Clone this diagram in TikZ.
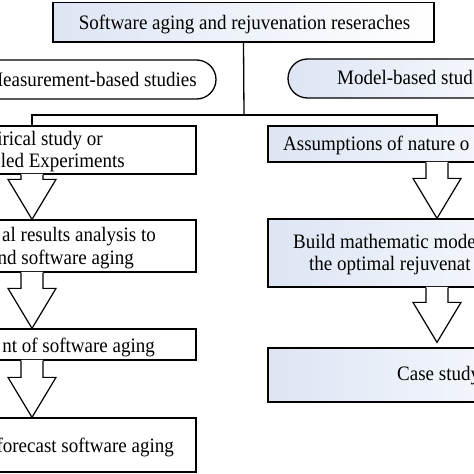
\documentclass[tikz,border=0pt]{standalone}
\usepackage{fontspec}
\setmainfont{Liberation Serif}
\usetikzlibrary{calc}
\definecolor{boxblue}{HTML}{DDE5F4}
\newcommand{\tx}[1]{\scalebox{1}[1.08]{#1}}
\newcommand{\blockarrow}[2]{%
  \path[fill=white] ($(#1.south)+(-11,-0.8)$) -- ($(#2)+(-11,-40)$) -- ($(#2)+(-24,-40)$) -- (#2) -- ($(#2)+(24,-40)$) -- ($(#2)+(11,-40)$) -- ($(#1.south)+(11,-0.8)$) -- cycle;
  \draw[arrline] ($(#1.south)+(-11,0)$) -- ($(#2)+(-11,-40)$) -- ($(#2)+(-24,-40)$) -- (#2) -- ($(#2)+(24,-40)$) -- ($(#2)+(11,-40)$) -- ($(#1.south)+(11,0)$);
}
\begin{document}
\begin{tikzpicture}[x=1pt,y=-1pt,
  box/.style={draw=black, line width=1.3pt, inner sep=0pt, fill=white},
  shadedbox/.style={box, left color=boxblue, right color=white},
  pill/.style={box, rounded corners=19.5pt},
  txt/.style={inner sep=0pt, font=\fontsize{19}{22}\selectfont},
  conn/.style={draw=black, line width=1.3pt},
  arrline/.style={draw=black, line width=1.2pt, line join=miter}]
\useasboundingbox (0,0) rectangle (474,474);
\fill[white] (0,0) rectangle (474,474);
\clip (0,0) rectangle (474,474);

% top box
\node[shadedbox, minimum width=381pt, minimum height=39.5pt] (top) at (243.5,22.25) {};
\node[txt, anchor=base] (ttop) at (244.5,29) {\tx{Software aging and rejuvenation reseraches}};

% category pills
\node[pill, minimum width=276pt, minimum height=39pt] (meas) at (78,79.5) {};
\node[txt, anchor=base east] (tmeas) at (197,86) {\tx{Measurement-based studies}};
\node[pill, left color=boxblue, right color=white, minimum width=282pt, minimum height=39pt] (model) at (429,78.5) {};
\node[txt, anchor=base west] (tmodel) at (337,84) {\tx{Model-based stud}};

% left column
\node[box, minimum width=328pt, minimum height=48pt] (L1) at (32,150) {};
\node[txt, anchor=base east] (tL1a) at (103,145) {\tx{irical study or}};
\node[txt, anchor=base east] (tL1b) at (125,167) {\tx{led Experiments}};

\node[box, minimum width=328pt, minimum height=52pt] (L2) at (32,246) {};
\node[txt, anchor=base east] (tL2a) at (156,241) {\tx{al results analysis to}};
\node[txt, anchor=base east] (tL2b) at (134,264) {\tx{nd software aging}};

\node[box, minimum width=328pt, minimum height=31pt] (L3) at (32,344.5) {};
\node[txt, anchor=base east] (tL3) at (155,352) {\tx{nt of software aging}};

\node[box, minimum width=328pt, minimum height=54pt] (L4) at (32,445) {};
\node[txt, anchor=base east] (tL4) at (174,452) {\tx{forecast software aging}};

% right column
\node[shadedbox, minimum width=338pt, minimum height=36pt] (R1) at (437,144) {};
\node[txt, anchor=base west] (tR1) at (283,150) {\tx{Assumptions of nature o}};

\node[shadedbox, minimum width=338pt, minimum height=68pt] (R2) at (437,253) {};
\node[txt, anchor=base west] (tR2a) at (293,248) {\tx{Build mathematic mode}};
\node[txt, anchor=base west] (tR2b) at (309,270) {\tx{the optimal rejuvenat}};

\node[shadedbox, minimum width=338pt, minimum height=54pt] (R3) at (437,375) {};
\node[txt, anchor=base west] (tR3) at (397,380) {\tx{Case study}};

% tree connectors
\coordinate (jn) at (244,115);
\draw[conn] (top.south) -- (jn);
\draw[conn] (L1.north) |- (jn) -| (R1.north);

% block arrows
\blockarrow{L1}{L2.north}
\blockarrow{L2}{L3.north}
\blockarrow{L3}{L4.north}
\blockarrow{R1}{R2.north}
\coordinate (R3tip) at ($(R3.north)+(0,-5)$);
\blockarrow{R2}{R3tip}
\end{tikzpicture}
\end{document}
